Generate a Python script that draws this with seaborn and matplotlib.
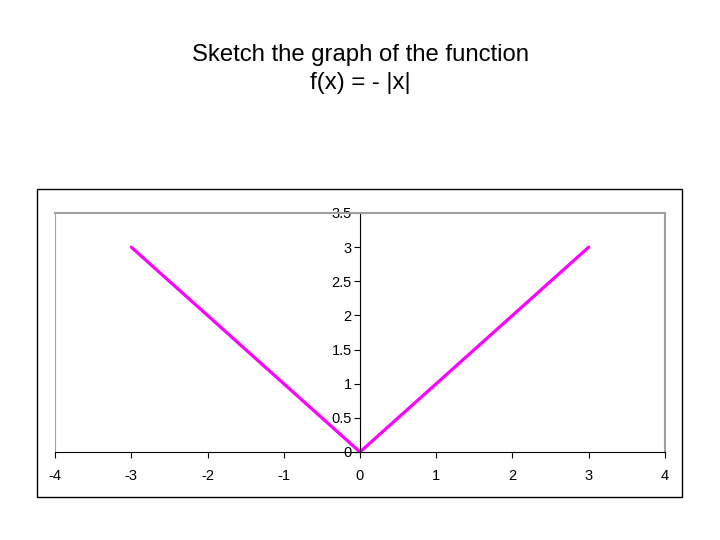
import matplotlib
matplotlib.use('Agg')
import matplotlib.pyplot as plt
import pandas as pd
import seaborn as sns
from matplotlib.patches import Rectangle
from matplotlib.lines import Line2D

# values
x_vals = [-3, -2, -1, 0, 1, 2, 3]
y_vals = [3, 2, 1, 0, 1, 2, 3]
x_ticks = [-4, -3, -2, -1, 0, 1, 2, 3, 4]
y_ticks = [0, 0.5, 1, 1.5, 2, 2.5, 3, 3.5]
y_tick_labels = ['0', '0.5', '1', '1.5', '2', '2.5', '3', '3.5']

sns.set_style('white')
plt.rcParams['font.family'] = ['Liberation Sans', 'DejaVu Sans']
plt.rcParams['text.color'] = 'black'
plt.rcParams['xtick.color'] = 'black'
plt.rcParams['ytick.color'] = 'black'

fig = plt.figure(figsize=(7.2, 5.4), dpi=100)

# outer chart frame
fig.patches.append(Rectangle((0.0514, 0.0796), 0.8958, 0.5704, transform=fig.transFigure,
                             fill=False, edgecolor='black', linewidth=1.0))

fig.text(0.5, 0.899, 'Sketch the graph of the function', ha='center', va='center', fontsize=17.2)
fig.text(0.5, 0.846, 'f(x) = - |x|', ha='center', va='center', fontsize=17.2)

ax = fig.add_axes([0.0764, 0.1630, 0.8472, 0.4426])
df = pd.DataFrame({'x': x_vals, 'y': y_vals})
sns.lineplot(data=df, x='x', y='y', sort=False, color='#ff00ff', linewidth=2.3, ax=ax)

ax.set_xlim(-4, 4)
ax.set_ylim(0, 3.5)
ax.set_xticks(x_ticks)
ax.set_xticklabels([str(t) for t in x_ticks])
ax.set_yticks(y_ticks)
ax.set_yticklabels(y_tick_labels)
ax.set_xlabel('')
ax.set_ylabel('')

# y axis through x = 0, gray plot-area border around
ax.spines['left'].set_position(('data', 0))
ax.spines['left'].set_color('black')
ax.spines['bottom'].set_color('black')
for side in ['top', 'right']:
    ax.spines[side].set_color('#a0a0a0')
    ax.spines[side].set_linewidth(1.5)
ax.add_line(Line2D([0, 0], [0, 1], transform=ax.transAxes, color='#a0a0a0', linewidth=1.5))

ax.tick_params(axis='both', direction='out', length=4, width=0.8, color='black',
               labelcolor='black', labelsize=10.5, pad=2, bottom=True, left=True)
ax.tick_params(axis='x', pad=8)

fig.savefig('out.png', dpi=100)
